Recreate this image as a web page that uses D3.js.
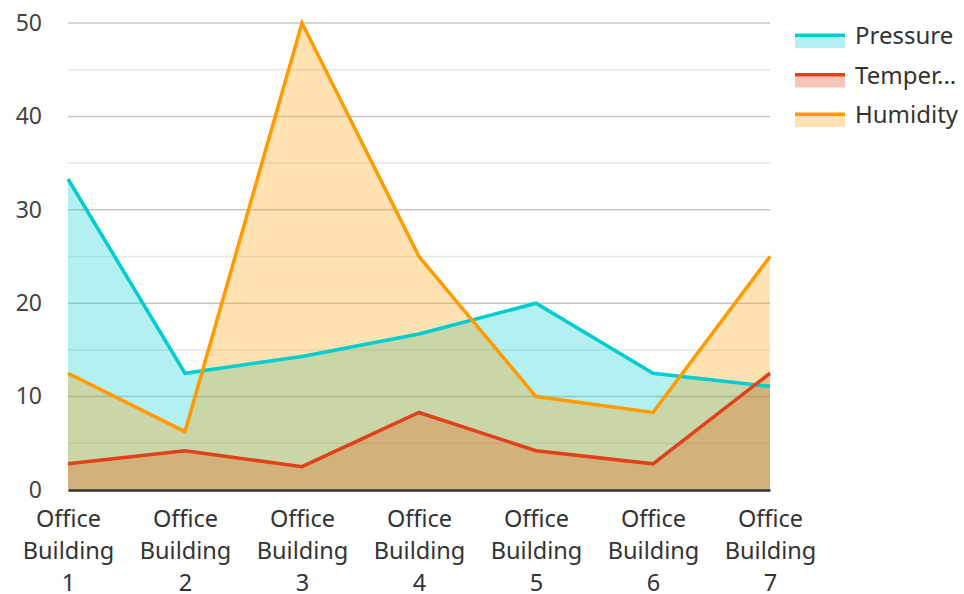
<!DOCTYPE html>
<html>
<head>
<meta charset="utf-8">
<script src="https://cdn.jsdelivr.net/npm/d3@7"></script>
<style>
  body { margin: 0; background: #fff; }
  text { font-family: "Noto Sans", "Open Sans", sans-serif; }
</style>
</head>
<body>
<svg id="chart" width="964" height="594"></svg>
<script>
'use strict';

// categories
const buildings = ['Office Building 1', 'Office Building 2', 'Office Building 3',
  'Office Building 4', 'Office Building 5', 'Office Building 6', 'Office Building 7'];

// series values
const pressure = [33.3, 12.5, 14.3, 16.7, 20, 12.5, 11.1];
const temperature = [2.8, 4.2, 2.5, 8.3, 4.2, 2.8, 12.5];
const humidity = [12.5, 6.25, 50, 25, 10, 8.3, 25];

const seriesNames = ['Pressure', 'Temper...', 'Humidity'];
const yTicks = [0, 10, 20, 30, 40, 50];
const yMinorTicks = [5, 15, 25, 35, 45];

const colors = ['#00cdd0', '#e0401a', '#ff9a00'];
const series = [pressure, temperature, humidity];

const svg = d3.select('#chart');
const margin = {left: 68, right: 194, top: 23, bottom: 104};
const width = +svg.attr('width');
const height = +svg.attr('height');

const x = d3.scalePoint()
  .domain(buildings)
  .range([margin.left, width - margin.right]);

const y = d3.scaleLinear()
  .domain([0, 50])
  .range([height - margin.bottom, margin.top]);

// сетка
svg.append('g')
  .selectAll('line')
  .data(yMinorTicks)
  .join('line')
  .attr('x1', margin.left).attr('x2', width - margin.right)
  .attr('y1', d => y(d)).attr('y2', d => y(d))
  .attr('stroke', '#e6e6e6')
  .attr('stroke-width', 1.5);

svg.append('g')
  .selectAll('line')
  .data(yTicks.slice(1))
  .join('line')
  .attr('x1', margin.left).attr('x2', width - margin.right)
  .attr('y1', d => y(d)).attr('y2', d => y(d))
  .attr('stroke', '#c6c6c6')
  .attr('stroke-width', 1.5);

// areas
const area = d3.area()
  .x((d, i) => x(buildings[i]))
  .y0(y(0))
  .y1(d => y(d));

const line = d3.line()
  .x((d, i) => x(buildings[i]))
  .y(d => y(d));

svg.append('g')
  .selectAll('path')
  .data(series)
  .join('path')
  .attr('d', area)
  .attr('fill', (d, i) => colors[i])
  .attr('fill-opacity', 0.3);

svg.append('g')
  .selectAll('path')
  .data(series)
  .join('path')
  .attr('d', line)
  .attr('fill', 'none')
  .attr('stroke', (d, i) => colors[i])
  .attr('stroke-width', 3.5)
  .attr('stroke-linejoin', 'miter');

// ось y
const yAxis = svg.append('g')
  .attr('transform', `translate(${margin.left},0)`)
  .call(d3.axisLeft(y).tickValues(yTicks).tickSize(0).tickPadding(26));
yAxis.select('.domain').remove();
yAxis.selectAll('text')
  .attr('fill', '#444')
  .style('font-size', '23px');

// ось x
const xAxis = svg.append('g')
  .attr('transform', `translate(0,${y(0)})`)
  .call(d3.axisBottom(x).tickSize(0).tickPadding(0));
xAxis.select('.domain')
  .attr('stroke', '#333')
  .attr('stroke-width', 2.5);
xAxis.selectAll('.tick text').remove();
xAxis.selectAll('.tick')
  .append('text')
  .attr('fill', '#333')
  .attr('text-anchor', 'middle')
  .style('font-size', '23.5px')
  .selectAll('tspan')
  .data(d => ['Office', 'Building', d.split(' ')[2]])
  .join('tspan')
  .attr('x', 0)
  .attr('y', (d, i) => 37 + i * 32)
  .text(d => d);

// легенда
const legend = svg.append('g')
  .selectAll('g')
  .data(seriesNames)
  .join('g')
  .attr('transform', (d, i) => `translate(795,${35 + i * 39.5})`);

legend.append('rect')
  .attr('x', 0).attr('y', 0)
  .attr('width', 50).attr('height', 13)
  .attr('fill', (d, i) => colors[i])
  .attr('fill-opacity', 0.3);

legend.append('rect')
  .attr('x', 0).attr('y', -1.5)
  .attr('width', 50).attr('height', 3.5)
  .attr('fill', (d, i) => colors[i]);

legend.append('text')
  .attr('x', 60)
  .attr('y', 9)
  .attr('fill', '#333')
  .style('font-size', '24px')
  .text(d => d);
</script>
</body>
</html>
